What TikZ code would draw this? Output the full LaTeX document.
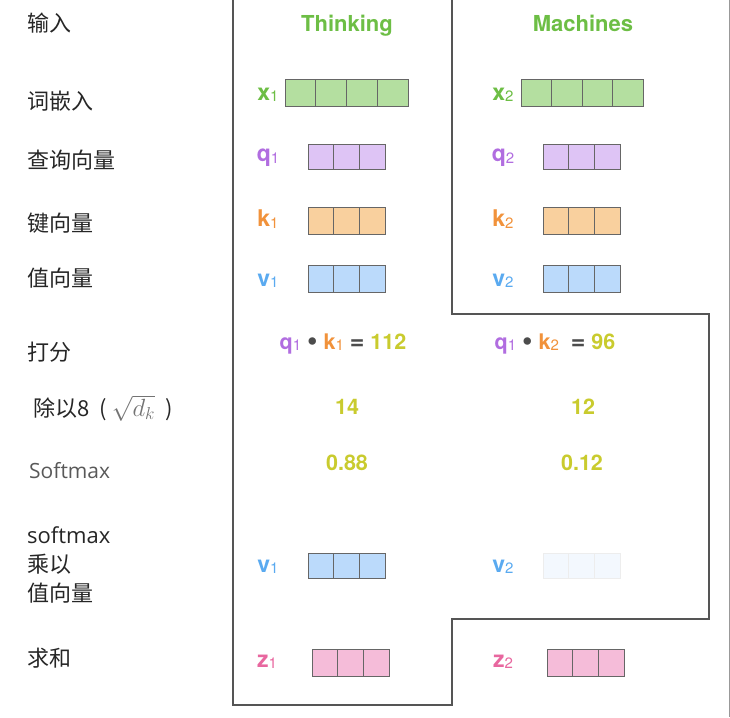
\documentclass[tikz,border=0pt]{standalone}
\usepackage{fontspec}
\setmainfont{TeX Gyre Heros}
\newfontfamily\cjkfont{Noto Sans CJK SC}
\newfontfamily\opensans{Open Sans}
\usetikzlibrary{positioning}

\definecolor{wordgreen}{HTML}{6DBE45}
\definecolor{embfill}{HTML}{B4DFA0}
\definecolor{qtext}{HTML}{B16DE0}
\definecolor{qfill}{HTML}{DEC4F5}
\definecolor{ktext}{HTML}{F1923B}
\definecolor{kfill}{HTML}{F9D09E}
\definecolor{vtext}{HTML}{5AAAF0}
\definecolor{vfill}{HTML}{BBDAFB}
\definecolor{ztext}{HTML}{E8679F}
\definecolor{zfill}{HTML}{F5BCD9}
\definecolor{scoretext}{HTML}{C9CB2E}
\definecolor{celledge}{HTML}{666666}
\definecolor{framegray}{HTML}{555555}

\tikzset{
  rowlabel/.style={anchor=west, inner sep=0pt, text=black!85,
    font=\cjkfont\fontsize{22}{29}\selectfont},
  word/.style={inner sep=0pt, anchor=base, text=wordgreen, font=\bfseries\fontsize{22}{24}\selectfont},
  veclabel/.style={inner sep=0pt, font=\bfseries\fontsize{23}{24}\selectfont},
  cell/.style={draw=celledge, line width=0.9pt},
  score/.style={inner sep=0pt, text=scoretext, font=\bfseries\fontsize{21.5}{24}\selectfont},
  frame/.style={draw=framegray, line width=1.3pt}
}
\newcommand\sub[1]{\raisebox{-0.12ex}{\mdseries\fontsize{15}{15}\selectfont #1}}
\newcommand\dotop{\textcolor{black!70}{\raisebox{-0.12ex}{\fontsize{30}{30}\selectfont\textbullet}}}
\newcommand\eqop{\textcolor{black!70}{\fontsize{25}{25}\selectfont=}}

\begin{document}
\begin{tikzpicture}[x=1pt, y=-1pt]
    \useasboundingbox (0,0) rectangle (730,717);

    % Frames
    \draw[frame] (233,0) -- (233,705) -- (452,705) -- (452,619) -- (709,619)
        -- (709,314) -- (452,314) -- (452,0);
    \draw[black!40, line width=1pt] (729,0) -- (729,717);

    % Row labels
    \node[rowlabel] (lblInput) at (27,23) {输入};
    \node[rowlabel] (lblEmbed) at (27,101) {词嵌入};
    \node[rowlabel] (lblQuery) at (27,160) {查询向量};
    \node[rowlabel] (lblKey) at (27,223) {键向量};
    \node[rowlabel] (lblValue) at (27,278) {值向量};
    \node[rowlabel] (lblScore) at (27,352) {打分};
    \node[rowlabel] (lblDivide) at (33,408) {除以8\hspace{10pt}(\hspace{5pt}\textcolor{black!55}{\fontsize{26}{29}\selectfont$\sqrt{d_k}$}\hspace{10pt})};
    \node[rowlabel, text=black!65, font=\opensans\fontsize{21}{24}\selectfont] (lblSoftmax) at (29,471) {Softmax};
    \node[rowlabel, align=left] (lblWeighted) at (27,565) {{\opensans softmax}\\乘以\\值向量};
    \node[rowlabel] (lblSum) at (27,658) {求和};

    % Words
    \node[word] (thinking) at (347,32) {Thinking};
    \node[word] (machines) at (583,32) {Machines};

    % Embeddings
    \node[veclabel, text=wordgreen] (x1) at (268,95) {x\sub1};
    \node[veclabel, text=wordgreen] (x2) at (503,95) {x\sub2};
    \foreach \i in {0,...,3} {
        \draw[cell, fill=embfill] ({285+30.75*\i},79) rectangle +(30.75,27);
        \draw[cell, fill=embfill] ({521+30.5*\i},79) rectangle +(30.5,27);
    }

    % Queries, keys, values
    \node[veclabel, text=qtext] (q1) at (268,158) {q\sub1};
    \node[veclabel, text=qtext] (q2) at (503,158) {q\sub2};
    \node[veclabel, text=ktext] (k1) at (268,219) {k\sub1};
    \node[veclabel, text=ktext] (k2) at (503,219) {k\sub2};
    \node[veclabel, text=vtext] (v1) at (268,281) {v\sub1};
    \node[veclabel, text=vtext] (v2) at (503,281) {v\sub2};
    \foreach \i in {0,1,2} {
        \draw[cell, fill=qfill] ({308+25.7*\i},144) rectangle +(25.7,25);
        \draw[cell, fill=qfill] ({543+25.7*\i},144) rectangle +(25.7,25);
        \draw[cell, fill=kfill] ({308+25.7*\i},207) rectangle +(25.7,27);
        \draw[cell, fill=kfill] ({543+25.7*\i},207) rectangle +(25.7,27);
        \draw[cell, fill=vfill] ({308+25.7*\i},265) rectangle +(25.7,27);
        \draw[cell, fill=vfill] ({543+25.7*\i},265) rectangle +(25.7,27);
    }

    % Scores
    \node[score] (score1) at (343,344) {\textcolor{qtext}{q\sub1} \dotop{} \textcolor{ktext}{k\sub1} \eqop{} 112};
    \node[score] (score2) at (555,344) {\textcolor{qtext}{q\sub1} \dotop{} \textcolor{ktext}{k\sub2} \ \eqop{} 96};
    \node[score] (scaled1) at (347,407) {14};
    \node[score] (scaled2) at (583,407) {12};
    \node[score] (soft1) at (347,463) {0.88};
    \node[score] (soft2) at (582,463) {0.12};

    % Weighted values
    \node[veclabel, text=vtext] (wv1) at (268,567) {v\sub1};
    \node[veclabel, text=vtext] (wv2) at (503,567) {v\sub2};
    \foreach \i in {0,1,2} {
        \draw[cell, fill=vfill] ({308+25.7*\i},553) rectangle +(25.7,25);
        \draw[cell, draw=celledge!12, fill=vfill!18] ({543+25.7*\i},553) rectangle +(25.7,25);
    }

    % Sums
    \node[veclabel, text=ztext] (z1) at (267,662) {z\sub1};
    \node[veclabel, text=ztext] (z2) at (503,662) {z\sub2};
    \foreach \i in {0,1,2} {
        \draw[cell, fill=zfill] ({312+25.7*\i},649) rectangle +(25.7,27);
        \draw[cell, fill=zfill] ({547+25.7*\i},649) rectangle +(25.7,27);
    }
\end{tikzpicture}
\end{document}
